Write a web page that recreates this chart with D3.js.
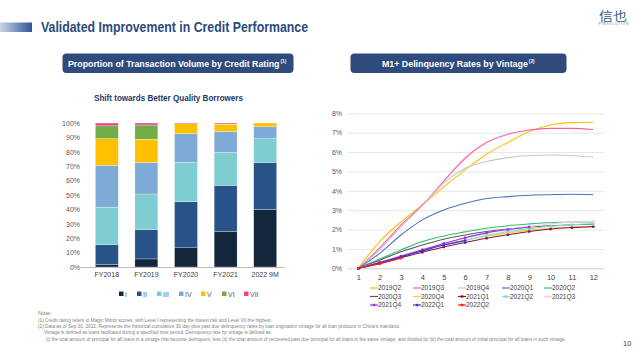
<!DOCTYPE html>
<html>
<head>
<meta charset="utf-8">
<title>Validated Improvement in Credit Performance</title>
<script src="https://cdn.jsdelivr.net/npm/d3@7"></script>
<style>
  body { margin: 0; background: #fff; }
  svg { display: block; font-family: Arial, "Liberation Sans", sans-serif; }
</style>
</head>
<body>
<svg id="chart" width="640" height="358"></svg>
<script>
// ---- data: left chart (share of transaction volume, %) ----
var years = ["FY2018", "FY2019", "FY2020", "FY2021", "2022 9M"];
var ratings = ["I", "II", "III", "IV", "V", "VI", "VII"];
var rI   = [1.6, 5.6, 13.3, 24.9, 39.8];
var rII  = [14.0, 20.4, 32.0, 31.8, 32.8];
var rIII = [26.0, 24.7, 27.3, 22.8, 16.5];
var rIV  = [29.0, 21.9, 20.0, 14.7, 8.3];
var rV   = [18.5, 16.2, 6.9, 4.9, 2.6];
var rVI  = [8.9, 9.8, 0.0, 0.2, 0.0];
var rVII = [2.0, 1.4, 0.5, 0.7, 0.0];
var ratingColors = ["#13263b", "#285389", "#7ecdd0", "#7eaad7", "#ffc000", "#70ad47", "#e8478d"];
var leftTicks = [0, 10, 20, 30, 40, 50, 60, 70, 80, 90, 100];

// ---- data: right chart (M1+ delinquency by vintage, %) ----
var months = [1, 2, 3, 4, 5, 6, 7, 8, 9, 10, 11, 12];
var vintages = ["2019Q2", "2019Q3", "2019Q4", "2020Q1", "2020Q2", "2020Q3", "2020Q4",
                "2021Q1", "2021Q2", "2021Q3", "2021Q4", "2022Q1", "2022Q2"];
var v2019Q2 = [0, 1.38, 2.40, 3.27, 4.20, 5.08, 5.89, 6.49, 7.06, 7.40, 7.52, 7.54];
var v2019Q3 = [0, 1.05, 2.24, 3.27, 4.50, 5.68, 6.49, 6.92, 7.14, 7.22, 7.22, 7.16];
var v2019Q4 = [0, 0.95, 2.15, 3.22, 4.39, 5.16, 5.51, 5.71, 5.82, 5.85, 5.82, 5.73];
var v2020Q1 = [0, 0.77, 1.72, 2.50, 3.01, 3.36, 3.60, 3.70, 3.77, 3.80, 3.82, 3.80];
var v2020Q2 = [0, 0.48, 0.95, 1.38, 1.67, 1.88, 2.07, 2.20, 2.29, 2.36, 2.39, 2.39];
var v2020Q3 = [0, 0.42, 0.85, 1.20, 1.50, 1.72, 1.90, 2.03, 2.13, 2.20, 2.25, 2.27];
var v2020Q4 = [0, 0.30, 0.65, 0.95, 1.22, 1.45, 1.65, 1.83, 1.97, 2.06, 2.12, 2.15];
var v2021Q1 = [0, 0.25, 0.55, 0.83, 1.10, 1.33, 1.55, 1.73, 1.90, 2.03, 2.10, 2.15];
var v2021Q2 = [0, 0.30, 0.62, 0.93, 1.20, 1.43, 1.70, 1.90, 2.05, 2.17, 2.25, 2.30];
var v2021Q3 = [0, 0.32, 0.65, 0.98, 1.28, 1.55, 1.80, 2.00, 2.15, 2.30, 2.38, 2.42];
var v2021Q4 = [0, 0.30, 0.62, 0.95, 1.28, 1.58, 1.83, 2.00, 2.13];
var v2022Q1 = [0, 0.28, 0.60, 0.90, 1.20, 1.43];
var v2022Q2 = [0, 0.24, 0.52];
var vintageColors = ["#ffc000", "#ff5ca8", "#c8c8c8", "#4a72c6", "#2fbf6f", "#595959", "#ffcc33",
                     "#8b1538", "#6fe3d6", "#ffc8e6", "#a030f0", "#3535c8", "#ff1a1a"];
var withMarkers = [false, false, false, false, false, false, false, true, true, true, true, true, true];
var rightTicks = [0, 1, 2, 3, 4, 5, 6, 7, 8];

var svg = d3.select("#chart");
var navy = "#2c4a7c";

// ---- header ----
var grad = svg.append("defs").append("linearGradient").attr("id", "hdr");
grad.append("stop").attr("offset", "0%").attr("stop-color", "#c9d6e8");
grad.append("stop").attr("offset", "100%").attr("stop-color", "#2f5597");
svg.append("rect").attr("x", 0).attr("y", 22.5).attr("width", 32).attr("height", 9.5).attr("fill", "url(#hdr)");
svg.append("text").attr("x", 41).attr("y", 32)
  .attr("font-size", 15).attr("font-weight", "bold").attr("fill", navy)
  .attr("textLength", 267).attr("lengthAdjust", "spacingAndGlyphs")
  .text("Validated Improvement in Credit Performance");

// logo
svg.append("text").attr("x", 599).attr("y", 20.5)
  .attr("font-family", "'Noto Sans CJK SC'").attr("font-size", 12).attr("fill", "#3a5a8c")
  .attr("textLength", 28).attr("lengthAdjust", "spacingAndGlyphs")
  .text("信也");
svg.append("text").attr("x", 599).attr("y", 25).attr("font-size", 2.6).attr("fill", "#3a5a8c")
  .attr("textLength", 29).text("FINVOLUTION");

// pills: font size is fitted so the label's natural width matches the target
function pill(x, w, label, sup, tx, tw) {
  svg.append("rect").attr("x", x).attr("y", 53.5).attr("width", w).attr("height", 19.5)
    .attr("rx", 4).attr("fill", "#2e4b7c");
  var t = svg.append("text").attr("x", tx).attr("y", 67)
    .attr("font-size", 10).attr("font-weight", "bold").attr("fill", "#fff")
    .text(label);
  var fs = 10 * tw / t.node().getComputedTextLength();
  t.attr("font-size", fs);
  var end = tx + t.node().getComputedTextLength();
  svg.append("text").attr("x", end + 1).attr("y", 63)
    .attr("font-size", 4.8).attr("font-weight", "bold").attr("fill", "#fff")
    .text(sup);
}
pill(62.5, 231, "Proportion of Transaction Volume by Credit Rating", "(1)", 68, 212);
pill(350.5, 216, "M1+ Delinquency Rates by Vintage", "(2)", 382, 146);

svg.append("text").attr("x", 94).attr("y", 100.5)
  .attr("font-size", 8.5).attr("font-weight", "bold").attr("fill", "#1f3864")
  .attr("textLength", 149).attr("lengthAdjust", "spacingAndGlyphs")
  .text("Shift towards Better Quality Borrowers");

// ---- left: stacked bars ----
var rows = years.map(function(y, i) {
  return { year: y, I: rI[i], II: rII[i], III: rIII[i], IV: rIV[i], V: rV[i], VI: rVI[i], VII: rVII[i] };
});
var stack = d3.stack().keys(ratings)(rows);
var xL = d3.scaleBand().domain(years).range([87, 285]).paddingInner(0.42).paddingOuter(0.21);
var yL = d3.scaleLinear().domain([0, 100]).range([267, 123]);

var left = svg.append("g");
left.append("g").attr("transform", "translate(81,0)")
  .call(d3.axisLeft(yL).tickValues(leftTicks).tickFormat(function(d) { return d + "%"; }).tickSize(0).tickPadding(1))
  .call(function(g) {
    g.select(".domain").remove();
    g.selectAll("text").attr("font-size", 7).attr("fill", "#595959").attr("font-family", "Arial, 'Liberation Sans'");
  });

left.selectAll("g.layer").data(stack).enter().append("g").attr("class", "layer")
  .attr("fill", function(d, i) { return ratingColors[i]; })
  .selectAll("rect").data(function(d) { return d; }).enter().append("rect")
  .attr("x", function(d) { return xL(d.data.year); })
  .attr("width", xL.bandwidth())
  .attr("y", function(d) { return yL(d[1]); })
  .attr("height", function(d) { return Math.max(0, yL(d[0]) - yL(d[1])); })
  .attr("stroke", "#ffffff").attr("stroke-width", 0.3);

left.append("g").attr("transform", "translate(0,267)")
  .call(d3.axisBottom(xL).tickSize(0).tickPadding(5))
  .call(function(g) {
    g.select(".domain").attr("stroke", "#bfbfbf").attr("d", "M77,0.5H285");
    g.selectAll("text").attr("font-size", 7).attr("fill", "#404040").attr("font-family", "Arial, 'Liberation Sans'");
  });

// left legend
var legL = left.append("g");
var legLX = [119, 137, 157, 179, 201, 222, 244];
ratings.forEach(function(r, i) {
  legL.append("rect").attr("x", legLX[i]).attr("y", 291.5).attr("width", 4.5).attr("height", 4.5).attr("fill", ratingColors[i]);
  legL.append("text").attr("x", legLX[i] + 6).attr("y", 296.5).attr("font-size", 7).attr("fill", "#595959").text(r);
});

// ---- right: lines ----
var xR = d3.scalePoint().domain(months).range([347.6, 604]).padding(0.5);
var yR = d3.scaleLinear().domain([0, 8]).range([268.3, 113.3]);
var right = svg.append("g");

right.append("g").selectAll("line").data(rightTicks).enter().append("line")
  .attr("x1", 348).attr("x2", 604)
  .attr("y1", function(d) { return yR(d) + 0.5; }).attr("y2", function(d) { return yR(d) + 0.5; })
  .attr("stroke", function(d) { return d === 0 ? "#d0d0d0" : "#e6e6e6"; }).attr("stroke-width", 1);

right.append("g").attr("transform", "translate(342,0)")
  .call(d3.axisLeft(yR).tickValues(rightTicks).tickFormat(function(d) { return d + "%"; }).tickSize(0).tickPadding(0))
  .call(function(g) {
    g.select(".domain").remove();
    g.selectAll("text").attr("font-size", 7).attr("fill", "#595959").attr("font-family", "Arial, 'Liberation Sans'");
  });
right.append("g").attr("transform", "translate(0,269)")
  .call(d3.axisBottom(xR).tickSize(0).tickPadding(6))
  .call(function(g) {
    g.select(".domain").remove();
    g.selectAll("text").attr("font-size", 7.5).attr("fill", "#404040").attr("font-family", "Arial, 'Liberation Sans'");
  });

var series = [v2019Q2, v2019Q3, v2019Q4, v2020Q1, v2020Q2, v2020Q3, v2020Q4,
              v2021Q1, v2021Q2, v2021Q3, v2021Q4, v2022Q1, v2022Q2];
var line = d3.line()
  .x(function(d, i) { return xR(months[i]); })
  .y(function(d) { return yR(d); })
  .curve(d3.curveMonotoneX);

// older vintages first, newer ones on top
series.forEach(function(s, k) {
  right.append("path").attr("d", line(s)).attr("fill", "none")
    .attr("stroke", vintageColors[k]).attr("stroke-width", 1.1);
  if (withMarkers[k]) {
    right.append("g").selectAll("rect").data(s).enter().append("rect")
      .attr("x", function(d, i) { return xR(months[i]) - 1.2; })
      .attr("y", function(d) { return yR(d) - 1.2; })
      .attr("width", 2.4).attr("height", 2.4)
      .attr("fill", vintageColors[k]);
  }
});

// right legend
var legColX = [370, 413, 458, 502, 544];
var legRowY = [288, 296.5, 305];
vintages.forEach(function(v, k) {
  var cx = legColX[k % 5], cy = legRowY[Math.floor(k / 5)];
  var g = right.append("g");
  g.append("line").attr("x1", cx).attr("x2", cx + 8).attr("y1", cy).attr("y2", cy)
    .attr("stroke", vintageColors[k]).attr("stroke-width", 1.2);
  if (withMarkers[k]) {
    g.append("rect").attr("x", cx + 2.8).attr("y", cy - 1.2).attr("width", 2.4).attr("height", 2.4).attr("fill", vintageColors[k]);
  }
  g.append("text").attr("x", cx + 8).attr("y", cy + 2.3).attr("font-size", 6.5).attr("fill", "#404040").text(v);
});

// ---- notes ----
var notes = [
  { x: 38, y: 315, w: 14, t: "Note:" },
  { x: 38, y: 321.5, w: 234, t: "(1) Credit rating refers to Magic Mirror scores, with Level I representing the lowest risk and Level VII the highest." },
  { x: 38, y: 328, w: 362, t: "(2) Data as of Sep 30, 2022. Represents the historical cumulative 30-day plus past due delinquency rates by loan origination vintage for all loan products in China\u2019s mainland." },
  { x: 44, y: 334, w: 228, t: "Vintage is defined as loans facilitated during a specified time period. Delinquency rate by vintage is defined as:" },
  { x: 46, y: 340.5, w: 520, t: "(i) the total amount of principal for all loans in a vintage that become delinquent, less (ii) the total amount of recovered past due principal for all loans in the same vintage, and divided by (iii) the total amount of initial principal for all loans in such vintage." }
];
svg.append("g").selectAll("text").data(notes).enter().append("text")
  .attr("x", function(d) { return d.x; }).attr("y", function(d) { return d.y; })
  .attr("font-size", 4.6).attr("fill", "#7f7f7f")
  .attr("textLength", function(d) { return d.w; }).attr("lengthAdjust", "spacingAndGlyphs")
  .text(function(d) { return d.t; });

svg.append("text").attr("x", 623).attr("y", 345.5).attr("font-size", 7.5).attr("fill", "#404040").text("10");
</script>
</body>
</html>
